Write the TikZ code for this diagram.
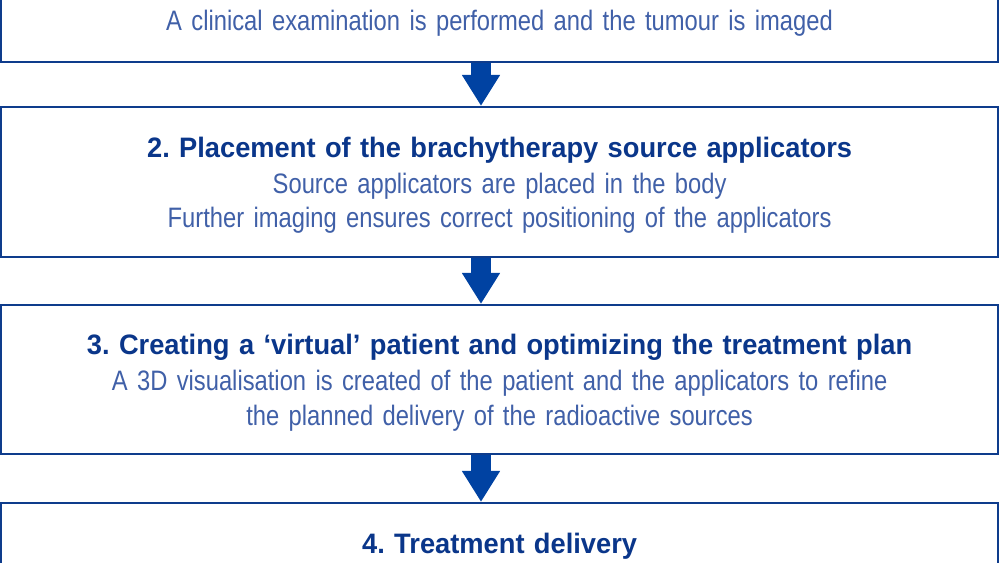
\documentclass[tikz,border=0pt]{standalone}
\usepackage{fontspec}
\setmainfont{Liberation Sans}[FakeStretch=0.845,WordSpace=0.55]
\newfontfamily\headfont{Liberation Sans}[FakeStretch=0.97,WordSpace=0.6,Ligatures=TeX]
\usetikzlibrary{arrows.meta}

\definecolor{boxblue}{HTML}{0E3C8C}
\definecolor{titleblue}{HTML}{0A368A}
\definecolor{bodyblue}{HTML}{4060A8}
\definecolor{flowblue}{HTML}{0042A2}

\newcommand{\stagetitle}[1]{\rule{0pt}{19pt}{\headfont\bfseries\color{titleblue}#1}\\[1.5pt]}

\begin{document}
\frenchspacing
\begin{tikzpicture}[
    stage/.style={draw=boxblue,line width=1.5pt,fill=white,minimum width=24.925cm,
                  text width=24cm,align=center,inner sep=0pt,text=bodyblue,
                  font=\fontsize{20}{24.3}\selectfont},
    flow/.style={flowblue,line width=0.5cm,-{Triangle[width=0.9cm,length=0.775cm]}}]
    \useasboundingbox (0,0) rectangle (25,14.05);

    \node[stage,minimum height=1.95cm] at (12.49,13.47) (exam)
        {A clinical examination is performed and the tumour is imaged};
    \node[stage,minimum height=3.75cm] at (12.49,9.5) (place)
        {\stagetitle{2. Placement of the brachytherapy source applicators}
         Source applicators are placed in the body\\
         Further imaging ensures correct positioning of the applicators};
    \node[stage,minimum height=3.725cm] at (12.49,4.5625) (plan)
        {\stagetitle{3. Creating a ‘virtual’ patient and optimizing the treatment plan}
         A 3D visualisation is created of the patient and the applicators to refine\\
         the planned delivery of the radioactive sources};
    \node[stage,minimum height=2.15cm] at (12.49,0.4) (deliver)
        {{\headfont\bfseries\color{titleblue}4. Treatment delivery}};

    \coordinate (axis) at (12.025,0);
    \draw[flow] (exam.south -| axis) -- (place.north -| axis);
    \draw[flow] (place.south -| axis) -- (plan.north -| axis);
    \draw[flow] (plan.south -| axis) -- (deliver.north -| axis);
\end{tikzpicture}
\end{document}
